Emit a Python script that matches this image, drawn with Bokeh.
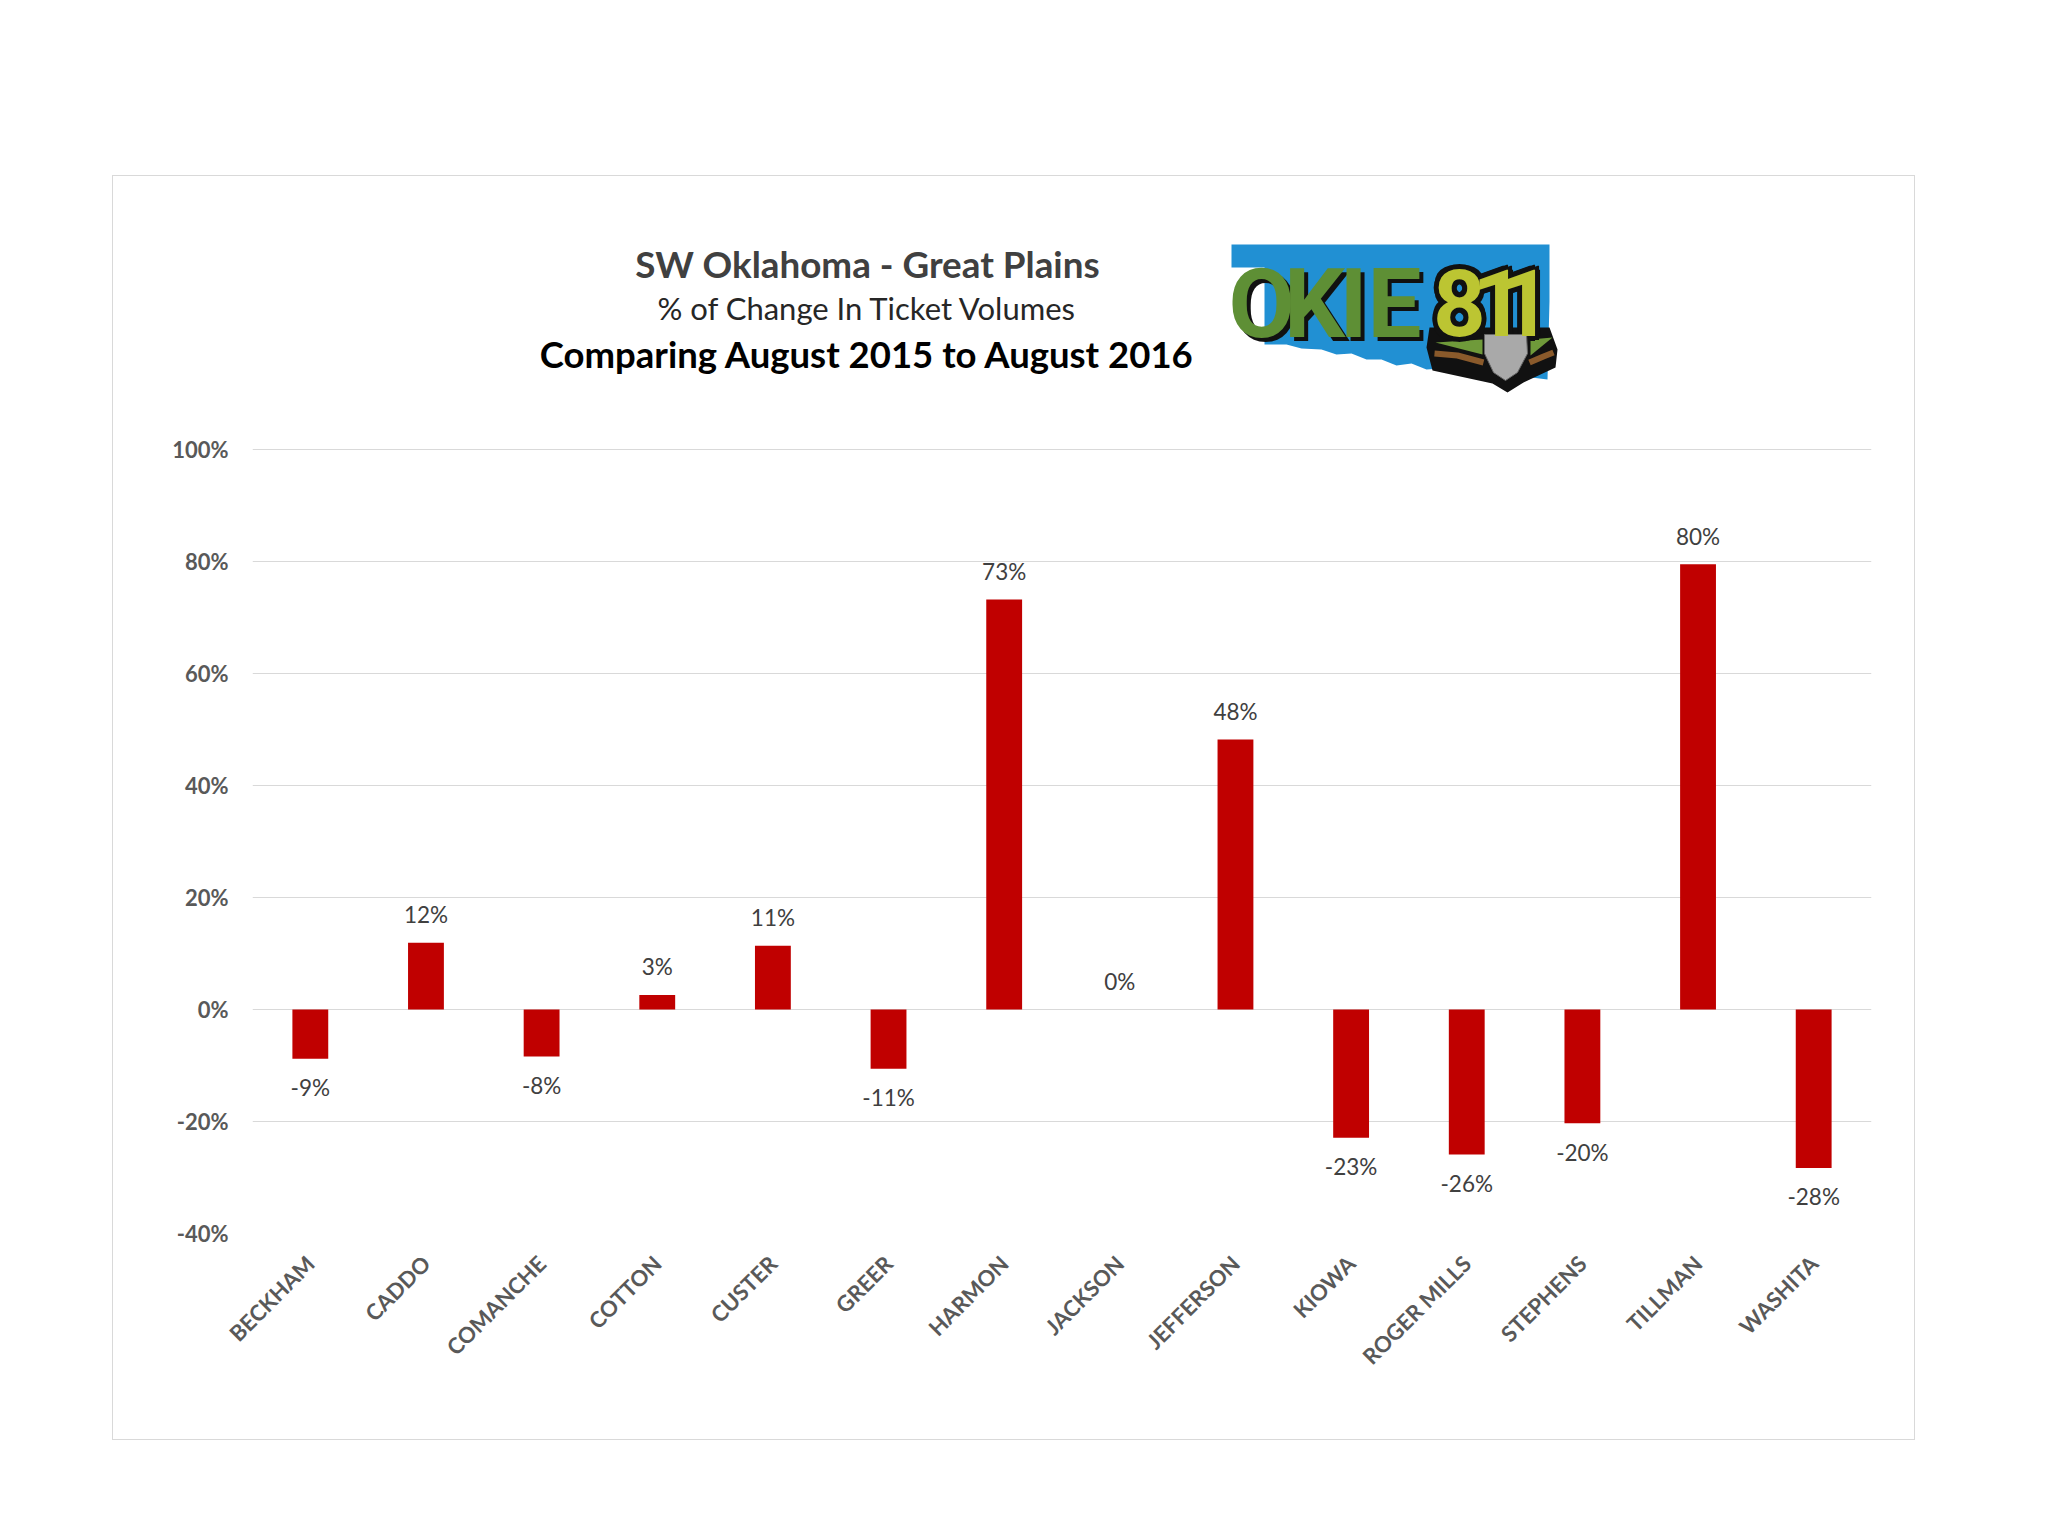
import math
from bokeh.plotting import figure
from bokeh.models import (ColumnDataSource, FixedTicker, CustomJSTickFormatter,
                          Label, Range1d, FactorRange)
from bokeh.core.properties import value
from bokeh.embed import file_html
from bokeh.resources import INLINE

# ---------------- data ----------------
counties = ["BECKHAM", "CADDO", "COMANCHE", "COTTON", "CUSTER", "GREER", "HARMON",
            "JACKSON", "JEFFERSON", "KIOWA", "ROGER MILLS", "STEPHENS", "TILLMAN", "WASHITA"]
pct_change = [-8.8, 11.9, -8.4, 2.6, 11.4, -10.6, 73.2, 0.0, 48.2, -22.9, -25.9, -20.3, 79.5, -28.3]
pct_labels = ["-9%", "12%", "-8%", "3%", "11%", "-11%", "73%", "0%", "48%",
              "-23%", "-26%", "-20%", "80%", "-28%"]
y_ticks = [-40, -20, 0, 20, 40, 60, 80, 100]

title_1 = "SW Oklahoma - Great Plains"
title_2 = "% of Change In Ticket Volumes"
title_3 = "Comparing August 2015 to August 2016"

# ---------------- geometry ----------------
W, H = 1801, 1263
PAGE_X0, PAGE_Y0 = 112, 175          # page position of the figure
FRAME_L, FRAME_R = 139, 43
FRAME_T, FRAME_B = 0, 206
PX_PER_PCT = 5.6
TOP_PCT_PAGE_Y = 448                 # page y of the 100% line
Y_MIN = -40
Y_MAX = 100 + (TOP_PCT_PAGE_Y - PAGE_Y0 - FRAME_T) / PX_PER_PCT
CAT_W = (W - FRAME_L - FRAME_R) / len(counties)


def dx(px):
    return (px - PAGE_X0 - FRAME_L) / CAT_W


def dy(py):
    return 100 + (TOP_PCT_PAGE_Y - py) / PX_PER_PCT


p = figure(x_range=FactorRange(*counties), y_range=Range1d(Y_MIN, Y_MAX),
           width=W, height=H, output_backend="svg", toolbar_location=None,
           min_border_left=FRAME_L, min_border_right=FRAME_R,
           min_border_top=FRAME_T, min_border_bottom=FRAME_B)
p.margin = (PAGE_Y0 + 1, 0, 0, PAGE_X0 + 1)
p.styles = {"outline": "1.5px solid #D9D9D9"}
p.outline_line_color = None
p.background_fill_color = "white"
p.border_fill_color = "white"

# bars
src = ColumnDataSource(dict(county=counties, val=pct_change, label=pct_labels))
p.vbar(x="county", top="val", bottom=0, width=0.31, source=src,
       fill_color="#C00000", line_color=None)

pos_idx = [i for i, v in enumerate(pct_change) if v >= 0]
neg_idx = [i for i, v in enumerate(pct_change) if v < 0]
pos_src = ColumnDataSource(dict(county=[counties[i] for i in pos_idx],
                                val=[pct_change[i] for i in pos_idx],
                                label=[pct_labels[i] for i in pos_idx]))
neg_src = ColumnDataSource(dict(county=[counties[i] for i in neg_idx],
                                val=[pct_change[i] for i in neg_idx],
                                label=[pct_labels[i] for i in neg_idx]))
lab_kw = dict(text="label", text_align="center", text_baseline="middle",
              text_font=value("Lato"), text_font_size="22.5px", text_color="#404040")
p.text(x="county", y="val", source=pos_src, y_offset=-28, **lab_kw)
p.text(x="county", y="val", source=neg_src, y_offset=29, **lab_kw)

# axes
p.yaxis.ticker = FixedTicker(ticks=y_ticks)
p.yaxis.formatter = CustomJSTickFormatter(code="return tick.toFixed(0) + '%';")
for ax in (p.xaxis, p.yaxis):
    ax.axis_line_color = None
    ax.major_tick_line_color = None
    ax.minor_tick_line_color = None
    ax.major_tick_out = 0
    ax.major_tick_in = 0
    ax.major_label_text_font = "Lato"
    ax.major_label_text_font_style = "bold"
    ax.major_label_text_color = "#595959"
p.yaxis.major_label_text_font_size = "22px"
p.yaxis.major_label_standoff = 24
p.xaxis.major_label_text_font_size = "22px"
p.xaxis.major_label_orientation = math.pi / 4
p.xaxis.major_label_standoff = 26
p.xgrid.grid_line_color = None
p.ygrid.grid_line_color = "#D9D9D9"
p.ygrid.grid_line_width = 1

# titles
cx = dx(866)
for txt, py, size, style, col in [(title_1, 262, "36.8px", "bold", "#404040"),
                                  (title_2, 306, "31px", "normal", "#262626"),
                                  (title_3, 352, "36.5px", "bold", "#000000")]:
    p.add_layout(Label(x=cx, y=dy(py), text=txt, text_align="center",
                       text_baseline="middle", text_font="Lato",
                       text_font_size=size, text_font_style=style, text_color=col))

# ---------------- logo (decoration) ----------------
ok_pts = [(1230, 243), (1548, 243), (1548, 300), (1546, 378), (1530, 376), (1515, 379),
          (1500, 374), (1485, 376), (1470, 371), (1455, 373), (1440, 367), (1425, 368),
          (1410, 362), (1395, 364), (1380, 358), (1365, 358), (1350, 352), (1335, 353),
          (1320, 348), (1300, 347), (1285, 343), (1263, 343), (1263, 266), (1230, 266)]
p.patch([dx(a) for a, b in ok_pts], [dy(b) for a, b in ok_pts],
        fill_color="#2190D3", line_color=None)

blob = [(1428, 326), (1548, 326), (1556, 348), (1554, 366), (1522, 381),
        (1506, 391), (1491, 382), (1431, 369), (1425, 346)]
p.patch([dx(a) for a, b in blob], [dy(b) for a, b in blob],
        fill_color="#111111", line_color=None)

greens = [[(1434, 341), (1481, 338), (1481, 353)], [(1529, 338), (1551, 336), (1529, 354)]]
for tri in greens:
    p.patch([dx(a) for a, b in tri], [dy(b) for a, b in tri],
            fill_color="#6F9A3A", line_color=None)
browns = [[(1433, 352), (1456, 354), (1482, 361)], [(1528, 361), (1542, 355), (1552, 351)]]
p.multi_line([[dx(a) for a, b in ln] for ln in browns], [[dy(b) for a, b in ln] for ln in browns],
             line_color="#8A5A2B", line_width=6)

digits = ["8", "1", "1"]
dig_x = [dx(v) for v in (1458, 1497, 1524)]
dig_y = [dy(301)] * 3
dig_kw = dict(text=digits, text_align="center", text_baseline="middle",
              text_font=value("Liberation Sans Narrow, Roboto"), text_font_style="bold",
              text_font_size="92px")
for ox, oy in [(-5, 0), (5, 0), (0, -5), (0, 5), (-4, -4), (4, -4), (-4, 4), (4, 4)]:
    p.text(dig_x, dig_y, text_color="#111111", x_offset=ox, y_offset=oy, **dig_kw)

blade = [(1483, 333), (1525, 333), (1526, 352), (1516, 371), (1504, 379), (1492, 371), (1483, 352)]
p.patch([dx(a) for a, b in blade], [dy(b) for a, b in blade],
        fill_color="#A9A9A9", line_color="#666666", line_width=1)
p.text(dig_x, dig_y, text_color="#BCC532", **dig_kw)

okie = ["O", "K", "I", "E"]
okie_x = [dx(v) for v in (1260, 1313, 1352, 1393)]
okie_y = [dy(302)] * 4
okie_kw = dict(text=okie, text_align="center", text_baseline="middle",
               text_font=value("Liberation Sans Narrow, Roboto"), text_font_style="bold",
               text_font_size="96px")
p.text(okie_x, okie_y, text_color="#111111", x_offset=4, y_offset=4, **okie_kw)
p.text(okie_x, okie_y, text_color="#5E8F35", **okie_kw)

open("out.html", "w").write(file_html(p, INLINE))
